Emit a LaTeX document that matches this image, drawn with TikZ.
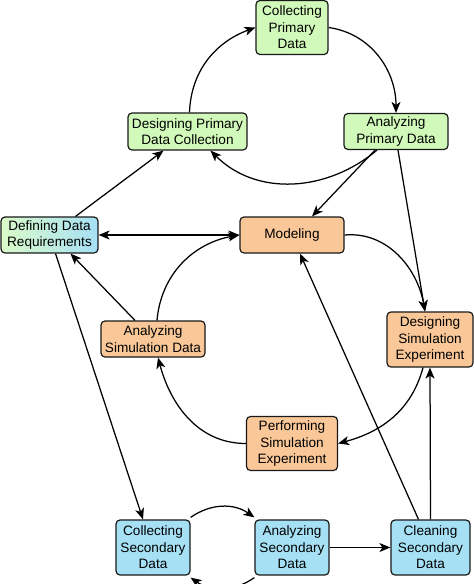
\documentclass[tikz,border=0pt]{standalone}
\usepackage{fontspec}
\setmainfont{Liberation Sans}
\usetikzlibrary{arrows.meta}
\definecolor{gfill}{RGB}{209,249,186}
\definecolor{ofill}{RGB}{250,200,152}
\definecolor{bfill}{RGB}{166,224,245}
\begin{document}
\begin{tikzpicture}[x=1pt,y=-1pt,
  box/.style={draw=black!90, line width=1.2pt, rounded corners=4pt, align=center, inner sep=1pt,
    font=\fontsize{13.6}{16.5}\selectfont},
  gbox/.style={box, fill=gfill},
  obox/.style={box, fill=ofill},
  bbox/.style={box, fill=bfill},
  conn/.style={line width=1.25pt, -{Stealth[length=11pt,width=9pt,inset=3pt]}},
  dconn/.style={line width=1.25pt, {Stealth[length=11pt,width=9pt,inset=3pt]}-{Stealth[length=11pt,width=9pt,inset=3pt]}}
]
\useasboundingbox (0,0) rectangle (474,584);
% nodes
\node[gbox, minimum width=72pt, minimum height=54pt] (cpd) at (292,27.5) {Collecting\\Primary\\Data};
\node[gbox, minimum width=119pt, minimum height=37pt] (dpdc) at (187.5,131.5) {Designing Primary\\Data Collection};
\node[gbox, minimum width=104pt, minimum height=36pt] (apd) at (396,131.5) {Analyzing\\Primary Data};
\node[box, left color=gfill!80!white, right color=bfill, minimum width=97pt, minimum height=36pt] (ddr) at (49.5,235) {Defining Data\\Requirements};
\node[obox, minimum width=104pt, minimum height=36pt] (mod) at (292,235) {Modeling};
\node[obox, minimum width=104pt, minimum height=36pt] (asd) at (153,339) {Analyzing\\Simulation Data};
\node[obox, minimum width=86pt, minimum height=55pt] (dse) at (430,339.5) {Designing\\Simulation\\Experiment};
\node[obox, minimum width=91pt, minimum height=54pt] (pse) at (292,443.5) {Performing\\Simulation\\Experiment};
\node[bbox, minimum width=74pt, minimum height=55pt] (csd) at (153,547.5) {Collecting\\Secondary\\Data};
\node[bbox, minimum width=74pt, minimum height=55pt] (asec) at (292,547.5) {Analyzing\\Secondary\\Data};
\node[bbox, minimum width=79pt, minimum height=55pt] (clsd) at (430.5,547.5) {Cleaning\\Secondary\\Data};
% connectors
\draw[conn] ([xshift=2pt]dpdc.north) to[out=88,in=200] (cpd.west);
\draw[conn] (cpd.east) to[out=-8,in=90] (apd.north);
\draw[conn] ([xshift=-19pt]apd.south) to[out=-140,in=-45] ([xshift=23pt]dpdc.south);
\draw[conn] ([xshift=26pt]ddr.north) -- ([xshift=-24pt]dpdc.south);
\draw[conn] ([xshift=-21pt]apd.south) -- ([xshift=20pt]mod.north);
\draw[conn] ([xshift=2pt]apd.south) -- ([xshift=-5pt]dse.north);
\draw[dconn] (ddr.east) -- (mod.west);
\draw[conn] (mod.east) to[out=5,in=100] ([xshift=-5pt]dse.north);
\draw[conn] ([xshift=-7pt]dse.south) to[out=-105,in=15] (pse.east);
\draw[conn] (pse.west) to[out=180,in=-75] ([xshift=5pt]asd.south);
\draw[conn] ([xshift=4pt]asd.north) to[out=85,in=190] (mod.west);
\draw[conn] ([xshift=-18pt]asd.north) -- ([xshift=21pt]ddr.south);
\draw[conn] ([xshift=6pt]ddr.south) -- ([xshift=-10pt]csd.north);
\draw[conn] ([yshift=2pt]csd.north east) to[bend left=35] ([yshift=2pt]asec.north west);
\draw[conn] ([yshift=-2pt]asec.south west) to[bend left=35] ([yshift=-2pt]csd.south east);
\draw[conn] (asec.east) -- (clsd.west);
\draw[conn] ([xshift=-12pt]clsd.north) -- ([xshift=8pt]mod.south);
\draw[conn] (clsd.north) -- (dse.south);
\end{tikzpicture}
\end{document}
